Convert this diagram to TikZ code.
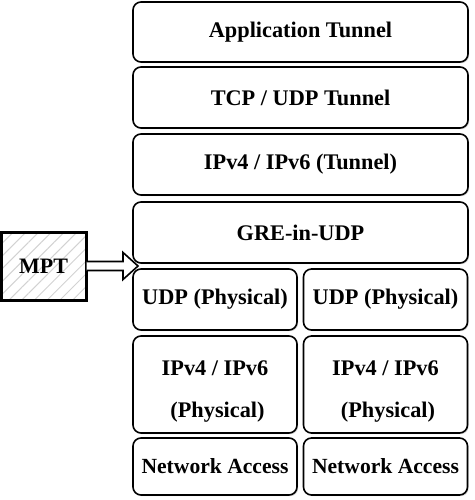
\documentclass[tikz,border=0pt]{standalone}
\usepackage{fontspec}
\setmainfont{Liberation Serif}
\usetikzlibrary{calc,patterns.meta,shadows}
\tikzset{
  layer/.style={draw, line width=1.6pt, rounded corners=8pt, fill=white,
    font=\fontsize{22.3pt}{26pt}\selectfont\bfseries, inner sep=0pt,
    drop shadow={shadow xshift=1.2pt, shadow yshift=-1.2pt, opacity=0.3}},
  wide/.style={layer, minimum width=335pt},
  half/.style={layer, minimum width=164pt},
  mptbox/.style={draw, line width=3pt, minimum width=85pt, minimum height=68pt,
    pattern={Lines[angle=45,distance=9pt,line width=1pt]}, pattern color=gray!35,
    font=\fontsize{22pt}{26pt}\selectfont\bfseries, inner sep=0pt},
  blockarrow/.style={line width=1.6pt, fill=white, line join=miter}
}
\newcommand\twoline{\raisebox{-12.5pt}[0pt][0pt]{\parbox{160pt}{\centering\baselineskip=42pt IPv4 / IPv6\\\hspace*{5pt}(Physical)}}}
\begin{document}
\begin{tikzpicture}[x=1pt,y=-1pt]
\useasboundingbox (0,0) rectangle (474,500);
\node[wide, minimum height=60pt] (app) at (300.5,32) {Application Tunnel};
\node[wide, minimum height=61pt] (tcp) at (300.5,97.5) {TCP / UDP Tunnel};
\node[wide, minimum height=61pt] (tun) at (300.5,164.5) {IPv4 / IPv6 (Tunnel)};
\node[wide, minimum height=61pt] (gre) at (300.5,232.5) {GRE-in-UDP};
\node[half, minimum height=61pt] (udpL) at (215,299.5) {UDP (Physical)};
\node[half, minimum height=61pt] (udpR) at (385.5,299.5) {UDP (Physical)};
\node[half, minimum height=97pt] (ipL) at (215,384.5) {\twoline};
\node[half, minimum height=97pt] (ipR) at (385.5,384.5) {\twoline};
\node[half, minimum height=57pt, font=\fontsize{21.6pt}{26pt}\selectfont\bfseries] (naL) at (215,466.5) {Network Access};
\node[half, minimum height=57pt, font=\fontsize{21.6pt}{26pt}\selectfont\bfseries] (naR) at (385.5,466.5) {Network Access};
\node[mptbox] (mpt) at (43.5,266) {MPT};
\coordinate (tip) at (138,266);
\draw[blockarrow] ($(mpt.east)+(0,-4.5)$) -- ($(tip)+(-15,-4.5)$) -- ($(tip)+(-15,-13.5)$)
  -- (tip) -- ($(tip)+(-15,13.5)$) -- ($(tip)+(-15,4.5)$) -- ($(mpt.east)+(0,4.5)$);
\end{tikzpicture}
\end{document}
